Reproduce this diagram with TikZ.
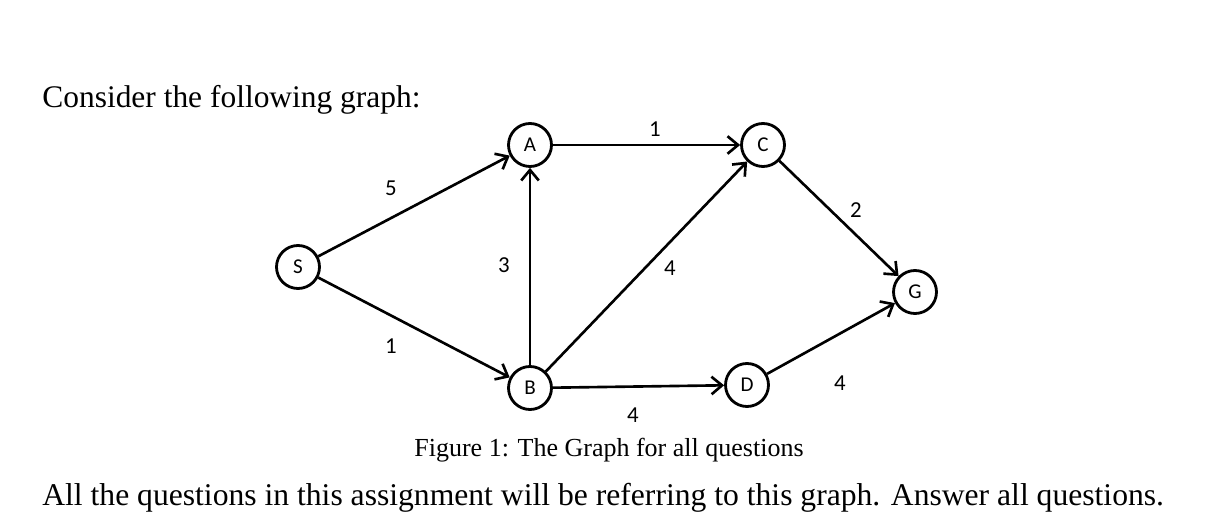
\documentclass[tikz,border=0pt]{standalone}
\usepackage{fontspec}
\setmainfont{Liberation Serif}
\newfontfamily\lab{Carlito}
\usetikzlibrary{arrows.meta}
\begin{document}
\begin{tikzpicture}[x=0.02cm,y=-0.02cm,
  vert/.style={circle,draw,line width=1.6pt,minimum size=0.86cm,inner sep=0pt,font=\lab\fontsize{12}{13}\selectfont},
  edge/.style={line width=1.5pt,-{Straight Barb[length=6pt,width=10pt,line width=1.5pt]}},
  wt/.style={font=\lab\fontsize{13}{14}\selectfont}]
\useasboundingbox (0,0) rectangle (1217,526);
\node[anchor=base west,inner sep=0pt,font=\fontsize{17.9}{20}\selectfont] (t1) at (42,108) {Consider the following graph:};
\node (S) [vert] at (298,267) {S};
\node (A) [vert] at (530,145) {A};
\node (C) [vert] at (763,145) {C};
\node (G) [vert] at (915,292) {G};
\node (B) [vert] at (530,388) {B};
\node (D) [vert] at (747,385) {D};
\draw[edge] (S) -- (A);
\draw[edge] (S) -- (B);
\draw[edge] (A) -- (C);
\draw[edge] (B) -- (A);
\draw[edge] (B) -- (C);
\draw[edge] (B) -- (D);
\draw[edge] (C) -- (G);
\draw[edge] (D) -- (G);
\node[wt] (w1) at (391,188) {5};
\node[wt] (w2) at (391,346) {1};
\node[wt] (w3) at (655,129) {1};
\node[wt] (w4) at (504,265) {3};
\node[wt] (w5) at (670,268) {4};
\node[wt] (w6) at (856,210) {2};
\node[wt] (w7) at (633,415) {4};
\node[wt] (w8) at (840,383) {4};
\node[font=\fontsize{14.8}{16}\selectfont] (cap) at (609,450) {Figure 1: The Graph for all questions};
\node[anchor=base west,inner sep=0pt,font=\fontsize{18}{20}\selectfont] (t2) at (42,506) {All the questions in this assignment will be referring to this graph. Answer all questions.};
\end{tikzpicture}
\end{document}
